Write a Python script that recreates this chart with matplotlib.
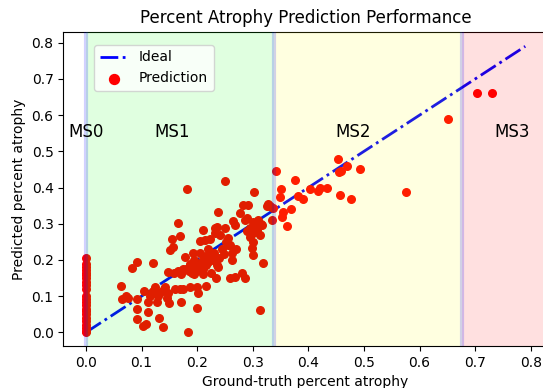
import matplotlib
matplotlib.use("Agg")
import matplotlib.pyplot as plt

# ground-truth vs predicted percent atrophy
truth_ms0 = [0.0] * 23
pred_ms0 = [0.205, 0.19, 0.181, 0.172, 0.165, 0.158, 0.15, 0.14, 0.131, 0.12,
            0.1, 0.092, 0.085, 0.075, 0.065, 0.058, 0.05, 0.04, 0.03, 0.02,
            0.012, 0.005, 0.0]

truth_low = [0.063, 0.064, 0.072, 0.075, 0.082, 0.091, 0.092, 0.091, 0.092,
             0.103, 0.108, 0.104, 0.112, 0.112, 0.118, 0.121, 0.124, 0.127,
             0.13, 0.132, 0.139, 0.142, 0.145, 0.148, 0.14, 0.135, 0.12,
             0.115, 0.15]
pred_low = [0.129, 0.091, 0.10, 0.094, 0.177, 0.195, 0.092, 0.064, 0.037,
            0.017, 0.022, 0.114, 0.085, 0.055, 0.108, 0.192, 0.126, 0.085,
            0.10, 0.04, 0.016, 0.126, 0.094, 0.11, 0.12, 0.112, 0.115,
            0.1, 0.08]

truth_mid = [0.148, 0.151, 0.154, 0.157, 0.166, 0.169, 0.169, 0.171, 0.158,
             0.165, 0.16, 0.175, 0.178, 0.182, 0.184, 0.187, 0.187, 0.18,
             0.17, 0.175, 0.185, 0.19, 0.193, 0.195, 0.199, 0.201, 0.2,
             0.198, 0.19, 0.2, 0.205, 0.21, 0.195, 0.215, 0.21]
pred_mid = [0.168, 0.227, 0.259, 0.236, 0.301, 0.267, 0.121, 0.083, 0.165,
            0.17, 0.12, 0.12, 0.209, 0.397, 0.0, 0.126, 0.19, 0.175,
            0.16, 0.175, 0.17, 0.185, 0.218, 0.2, 0.066, 0.108, 0.125,
            0.17, 0.165, 0.18, 0.19, 0.175, 0.16, 0.185, 0.16]

truth_hi = [0.205, 0.205, 0.21, 0.211, 0.214, 0.216, 0.215, 0.22, 0.22, 0.223,
            0.224, 0.225, 0.228, 0.23, 0.232, 0.232, 0.234, 0.235, 0.236,
            0.238, 0.238, 0.24, 0.241, 0.245, 0.248, 0.25, 0.25, 0.252, 0.255,
            0.256, 0.259, 0.259, 0.262, 0.262, 0.265, 0.268, 0.268, 0.27,
            0.277, 0.28, 0.283, 0.286, 0.286, 0.289, 0.29, 0.292, 0.295,
            0.295, 0.298, 0.3, 0.301, 0.301, 0.301, 0.302, 0.305, 0.307,
            0.31, 0.313, 0.313, 0.315, 0.316, 0.319, 0.325, 0.328, 0.331,
            0.334, 0.337]
pred_hi = [0.252, 0.22, 0.2, 0.283, 0.255, 0.128, 0.21, 0.195, 0.23, 0.257,
           0.164, 0.21, 0.2, 0.22, 0.287, 0.274, 0.15, 0.292, 0.186,
           0.181, 0.331, 0.205, 0.269, 0.23, 0.215, 0.418, 0.287, 0.25, 0.24,
           0.26, 0.241, 0.149, 0.218, 0.2, 0.308, 0.154, 0.296, 0.23,
           0.329, 0.163, 0.352, 0.149, 0.309, 0.315, 0.28, 0.352, 0.287,
           0.264, 0.232, 0.305, 0.25, 0.213, 0.274, 0.389, 0.295, 0.283,
           0.31, 0.269, 0.063, 0.3, 0.296, 0.192, 0.35, 0.355, 0.349,
           0.31, 0.343]

truth_ms2 = [0.342, 0.349, 0.351, 0.352, 0.355, 0.361, 0.369, 0.375, 0.382,
             0.391, 0.403, 0.417, 0.421, 0.433, 0.453, 0.455, 0.458, 0.456,
             0.469, 0.477, 0.493, 0.575, 0.651, 0.703, 0.73]
pred_ms2 = [0.447, 0.375, 0.395, 0.318, 0.333, 0.294, 0.34, 0.421, 0.377,
            0.368, 0.396, 0.391, 0.398, 0.40, 0.478, 0.444, 0.447, 0.378,
            0.459, 0.367, 0.45, 0.389, 0.589, 0.66, 0.66]

truth = truth_ms0 + truth_low + truth_mid + truth_hi + truth_ms2
pred = pred_ms0 + pred_low + pred_mid + pred_hi + pred_ms2

ideal = [0.0, 0.79]

stage_edges = [0.0, 0.338, 0.676, 1.0]
stage_colors = ["lime", "yellow", "red"]
stage_names = ["MS0", "MS1", "MS2", "MS3"]
stage_label_x = [0.0, 0.155, 0.48, 0.767]

fig = plt.figure(figsize=(5.43, 3.88), dpi=100)
ax = fig.add_axes([0.1166, 0.1082, 0.8917, 0.8101])

ax.plot(ideal, ideal, "b-.", lw=2, label="Ideal", zorder=2)
ax.scatter(truth, pred, s=30, c="r", label="Prediction", zorder=2)

for i, col in enumerate(stage_colors):
    ax.axvspan(stage_edges[i], stage_edges[i + 1], color=col, alpha=0.12,
               lw=0, zorder=3)
for xe in stage_edges[:3]:
    ax.axvline(xe, color="b", alpha=0.18, lw=3, zorder=3)

for name, xt in zip(stage_names, stage_label_x):
    ax.text(xt, 0.553, name, ha="center", va="center", fontsize=12, zorder=4)

ax.set_xlim(-0.0408, 0.83)
ax.set_ylim(-0.0378, 0.8304)
ax.set_title("Percent Atrophy Prediction Performance", fontsize=12)
ax.set_xlabel("Ground-truth percent atrophy")
ax.set_ylabel("Predicted percent atrophy")
ax.legend(loc="upper left", bbox_to_anchor=(0.05, 0.98), markerscale=1.3)

fig.savefig("out.png", dpi=100)
